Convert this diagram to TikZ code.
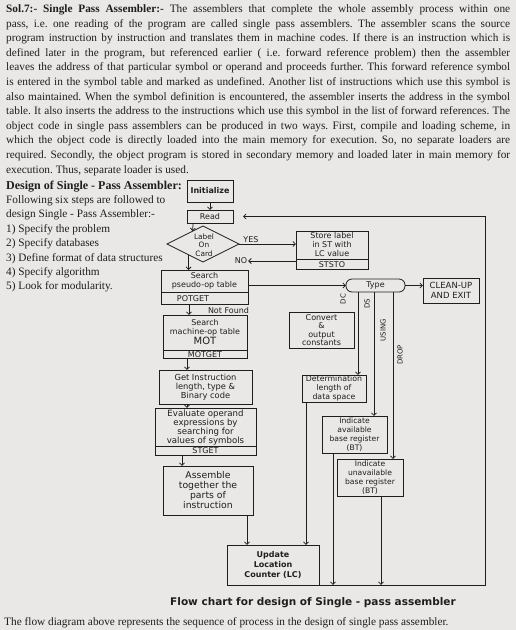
\documentclass[tikz,border=0pt]{standalone}
\usepackage{fontspec}
\setmainfont{Liberation Serif}
\newfontfamily\fcf{DejaVu Sans}
\usetikzlibrary{arrows.meta,shapes.geometric,calc}
\definecolor{bg}{HTML}{EAE8E7}
\definecolor{ink}{HTML}{1E1E1E}
\newcommand\jl[1]{\makebox[504pt][s]{#1}}
\newcommand\fs[2]{\fontsize{#1}{#2}\selectfont}
\newcommand\fbx[7][]{\node[fb,#1,minimum width=#5pt-#3pt,minimum height=#6pt-#4pt] (#2) at (#3,#4) {#7};}
\frenchspacing
\begin{document}
\begin{tikzpicture}[x=1pt,y=-1pt,
  lnk/.style={draw=ink,line width=0.75pt},
  arr/.style={lnk,-{Straight Barb[length=2.6pt,width=5pt,line width=0.75pt]}},
  fb/.style={draw=ink,line width=0.8pt,inner sep=0pt,outer sep=0pt,anchor=north west,text=ink,align=center,font=\fcf\fs{8}{9}},
  ft/.style={inner sep=0pt,outer sep=0pt,text=ink,align=center,font=\fcf\fs{8}{9}},
  body/.style={inner sep=0pt,anchor=base west,text=ink,font=\frenchspacing\fs{11.3}{14}},
  rl/.style={ft,rotate=90,font=\fcf\fs{7}{8}},
]
\useasboundingbox (0,0) rectangle (516,630);
\fill[bg] (0,0) rectangle (516,630);

% ---------- paragraph ----------
\node[body] (p1) at (6,12.5) {\jl{\textbf{Sol.7:- Single Pass Assembler:-} The assemblers that complete the whole assembly process within one}};
\node[body] (p2) at (6,27.1) {\jl{pass, i.e. one reading of the program are called single pass assemblers. The assembler scans the source}};
\node[body] (p3) at (6,41.7) {\jl{program instruction by instruction and translates them in machine codes. If there is an instruction which is}};
\node[body] (p4) at (6,56.3) {\jl{defined later in the program, but referenced earlier ( i.e. forward reference problem) then the assembler}};
\node[body] (p5) at (6,70.9) {\jl{leaves the address of that particular symbol or operand and proceeds further. This forward reference symbol}};
\node[body] (p6) at (6,85.5) {\jl{is entered in the symbol table and marked as undefined. Another list of instructions which use this symbol is}};
\node[body] (p7) at (6,100.1) {\jl{also maintained. When the symbol definition is encountered, the assembler inserts the address in the symbol}};
\node[body] (p8) at (6,114.7) {\jl{table. It also inserts the address to the instructions which use this symbol in the list of forward references. The}};
\node[body] (p9) at (6,129.3) {\jl{object code in single pass assemblers can be produced in two ways. First, compile and loading scheme, in}};
\node[body] (p10) at (6,143.9) {\jl{which the object code is directly loaded into the main memory for execution. So, no separate loaders are}};
\node[body] (p11) at (6,158.5) {\jl{required. Secondly, the object program is stored in secondary memory and loaded later in main memory for}};
\node[body] (p12) at (6,173.1) {execution. Thus, separate loader is used.};

% ---------- left list ----------
\node[body,font=\bfseries\fs{12}{14}] (h2) at (6,189) {Design of Single - Pass Assembler:};
\node[body] (l1) at (6,203.4) {Following six steps are followed to};
\node[body] (l2) at (6,217.8) {design Single - Pass Assembler:-};
\node[body] (l3) at (6,232.2) {1) Specify the problem};
\node[body] (l4) at (6,246.6) {2) Specify databases};
\node[body] (l5) at (6,261) {3) Define format of data structures};
\node[body] (l6) at (6,275.4) {4) Specify algorithm};
\node[body] (l7) at (6,289.8) {5) Look for modularity.};

% ---------- flowchart boxes ----------
\fbx[font=\fcf\bfseries\fs{8}{9}]{init}{187}{180}{233}{202}{Initialize}
\fbx{read}{187}{210}{233}{223}{Read}
\node[draw=ink,line width=0.8pt,diamond,minimum width=72pt,minimum height=36pt,inner sep=0pt,outer sep=0pt] (dia) at (203,244) {};
\node[ft,font=\fcf\fs{7.4}{8.4}] (diat) at (204,245) {Label\\On\\Card};

\fbx{store}{296}{231}{368}{269}{}
\draw[lnk] (store.west |- 0,259) -- (store.east |- 0,259);
\node[ft] (storet) at (332,245) {Store label\\in ST with\\LC value};
\node[ft] (storec) at (332,264.5) {STSTO};

\fbx{pso}{161}{270}{248}{304}{}
\draw[lnk] (pso.west |- 0,292) -- (pso.east |- 0,292);
\node[ft] (psot) at (204.5,281) {Search\\pseudo-op table};
\node[ft] (psoc) at (193,298.5) {POTGET};

\node[draw=ink,line width=0.8pt,rounded corners=6pt,minimum width=59pt,minimum height=13pt,inner sep=0pt,outer sep=0pt,anchor=north west,text=ink,font=\fcf\fs{8}{9}] (type) at (346,279) {Type};
\fbx[font=\fcf\fs{8.5}{9.5}]{clean}{423}{278}{479}{303}{CLEAN-UP\\AND EXIT}
\fbx[font=\fcf\fs{8}{8.5}]{conv}{289}{312}{354}{348}{Convert\\\&\\output\\constants}

\fbx{mot}{163}{315}{247}{358}{}
\draw[lnk] (mot.west |- 0,350) -- (mot.east |- 0,350);
\node[ft] (mott) at (205,332) {Search\\machine-op table\\{\fs{10}{10}MOT}};
\node[ft] (motc) at (205,354.5) {MOTGET};

\fbx[font=\fcf\fs{8.3}{9}]{gi}{159}{370}{252}{404}{Get Instruction\\length, type \&\\Binary code}

\fbx{ev}{155}{408}{256}{455}{}
\draw[lnk] (ev.west |- 0,446) -- (ev.east |- 0,446);
\node[ft,font=\fcf\fs{8.6}{9}] (evt) at (205.5,427.5) {Evaluate operand\\expressions by\\searching for\\values of symbols};
\node[ft] (evc) at (205.5,450.5) {STGET};

\fbx[font=\fcf\fs{9.3}{10}]{asm}{163}{466}{253}{515}{Assemble\\together the\\parts of\\instruction}

\fbx[font=\fcf\fs{7.8}{8.8}]{det}{302}{375}{366}{402}{Determination\\length of\\data space}
\fbx[font=\fcf\fs{7.6}{8.8}]{avail}{322}{416}{387}{453}{Indicate\\available\\base register\\(BT)}
\fbx[font=\fcf\fs{7.6}{8.8}]{unav}{337}{459}{403}{496}{Indicate\\unavailable\\base register\\(BT)}
\fbx[font=\fcf\bfseries\fs{8}{10}]{upd}{227}{545}{319}{585}{Update\\Location\\Counter (LC)}

% ---------- labels ----------
\node[ft] (yes) at (251,240) {YES};
\node[ft] (no) at (241,261) {NO};
\node[ft,anchor=west] (nf) at (208,310.5) {Not Found};
\node[rl] (ldc) at (343,299) {DC};
\node[rl] (lds) at (367,304) {DS};
\node[rl] (lus) at (383,330) {USING};
\node[rl] (ldr) at (400,355) {DROP};

% ---------- connectors ----------
\coordinate (cr) at (485,585);
\coordinate (rt) at ($(read.east)+(10,0)$);
\coordinate (dsw) at ($(dia.south)!0.4!(dia.west)$);
\draw[arr] (init) -- (read);
\draw[arr] (read.south -| 193,0) -- ($(dia.north)!0.2857!(dia.west)$);
\draw[arr] (dsw) -- (dsw |- pso.north);
\draw[arr] (dia.east) -- (dia.east -| store.west);
\draw[arr,shorten >=1pt] (store.west |- no) -- (no.east);
\draw[arr] (pso.south -| 189,0) -- (mot.north -| 189,0);
\draw[arr] (type.west -| pso.east) -- (type.west);
\draw[arr] (type.east) -- (type.east -| clean.west);
\draw[arr] (type.south -| 358,0) -- (det.north -| 358,0);
\draw[arr] (type.south -| 374,0) -- (avail.north -| 374,0);
\draw[arr] (type.south -| 393,0) -- (unav.north -| 393,0);
\draw[arr] (mot.south -| 187,0) -- (gi.north -| 187,0);
\draw[arr] (gi.south -| 187,0) -- (ev.north -| 187,0);
\draw[arr] (ev.south -| 182,0) -- (asm.north -| 182,0);
\draw[arr] (asm.south -| 247,0) -- (upd.north -| 247,0);
\draw[arr] (det.south -| 306,0) -- (upd.north -| 306,0);
\draw[arr] (avail.south -| 333,0) -- (cr -| 333,0);
\draw[arr] (unav.south -| 381,0) -- (cr -| 381,0);
\draw[arr] (upd.south east) -- (cr) |- (rt);

% ---------- caption ----------
\node[ft,anchor=base,font=\fcf\bfseries\fs{10.5}{12}] (cap) at (313,605) {Flow chart for design of Single - pass assembler};
\node[body] (last) at (4,625) {The flow diagram above represents the sequence of process in the design of single pass assembler.};
\end{tikzpicture}
\end{document}
